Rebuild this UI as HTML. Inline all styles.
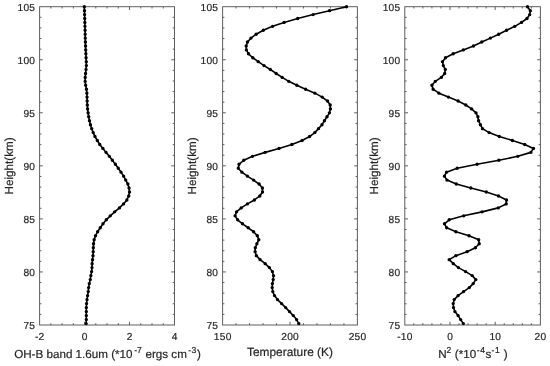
<!DOCTYPE html>
<html><head><meta charset="utf-8"><title>Profiles</title>
<style>
html,body{margin:0;padding:0;background:#fff;}
body{width:550px;height:366px;overflow:hidden;}
svg{display:block;}
text{font-family:'Liberation Sans', Arial, Helvetica, sans-serif;fill:#262626;text-rendering:geometricPrecision;}
.lb{stroke:#262626;stroke-width:0.2px;}
.tk{stroke:#262626;stroke-width:0.2px;}
.tk{font-size:10.2px;letter-spacing:0.25px;}
.lb{font-size:11.9px;}
</style></head><body>
<svg width="550" height="366" viewBox="0 0 550 366">
<rect x="0" y="0" width="550" height="366" fill="#fff"/>
<path d="M39.6 314.39h1.8M174.5 314.39h-1.8M39.6 303.78h1.8M174.5 303.78h-1.8M39.6 293.17h1.8M174.5 293.17h-1.8M39.6 282.56h1.8M174.5 282.56h-1.8M39.6 271.95h3.2M174.5 271.95h-3.2M39.6 261.34h1.8M174.5 261.34h-1.8M39.6 250.73h1.8M174.5 250.73h-1.8M39.6 240.12h1.8M174.5 240.12h-1.8M39.6 229.51h1.8M174.5 229.51h-1.8M39.6 218.9h3.2M174.5 218.9h-3.2M39.6 208.29h1.8M174.5 208.29h-1.8M39.6 197.68h1.8M174.5 197.68h-1.8M39.6 187.07h1.8M174.5 187.07h-1.8M39.6 176.46h1.8M174.5 176.46h-1.8M39.6 165.85h3.2M174.5 165.85h-3.2M39.6 155.24h1.8M174.5 155.24h-1.8M39.6 144.63h1.8M174.5 144.63h-1.8M39.6 134.02h1.8M174.5 134.02h-1.8M39.6 123.41h1.8M174.5 123.41h-1.8M39.6 112.8h3.2M174.5 112.8h-3.2M39.6 102.19h1.8M174.5 102.19h-1.8M39.6 91.58h1.8M174.5 91.58h-1.8M39.6 80.97h1.8M174.5 80.97h-1.8M39.6 70.36h1.8M174.5 70.36h-1.8M39.6 59.75h3.2M174.5 59.75h-3.2M39.6 49.14h1.8M174.5 49.14h-1.8M39.6 38.53h1.8M174.5 38.53h-1.8M39.6 27.92h1.8M174.5 27.92h-1.8M39.6 17.31h1.8M174.5 17.31h-1.8M50.84 325v-1.8M50.84 6.7v1.8M62.08 325v-1.8M62.08 6.7v1.8M73.33 325v-1.8M73.33 6.7v1.8M84.57 325v-3.2M84.57 6.7v3.2M95.81 325v-1.8M95.81 6.7v1.8M107.05 325v-1.8M107.05 6.7v1.8M118.29 325v-1.8M118.29 6.7v1.8M129.53 325v-3.2M129.53 6.7v3.2M140.78 325v-1.8M140.78 6.7v1.8M152.02 325v-1.8M152.02 6.7v1.8M163.26 325v-1.8M163.26 6.7v1.8" stroke="#5e5e5e" stroke-width="1" fill="none"/>
<rect x="39.6" y="6.7" width="134.9" height="318.3" stroke="#5e5e5e" stroke-width="1" fill="none"/>
<polyline points="84.31,6.75 84.45,10.66 84.6,14.58 84.74,18.5 84.85,22.41 84.95,26.33 85.11,30.25 85.18,34.18 85.26,38.1 85.38,42.02 85.54,45.95 85.7,49.88 85.85,53.8 86.06,57.73 86.27,61.66 86.35,65.59 86.04,69.53 85.58,73.46 85.21,77.39 85.16,81.33 85.65,85.27 86.44,89.21 86.85,93.15 87.04,97.09 87.14,101.03 87.3,104.97 87.61,108.91 88.1,112.86 88.72,116.81 89.48,120.75 90.43,124.7 91.74,128.65 93.19,132.6 95,136.55 97.31,140.51 99.77,144.46 102.9,148.42 106,152.37 109.34,156.33 112.34,160.29 115.36,164.25 118.26,168.21 121.01,172.17 123.63,176.14 125.75,180.1 127.88,184.07 129.05,188.03 129.49,192 128.73,195.97 126.87,199.94 123.54,203.91 119.42,207.89 114.67,211.86 110.27,215.84 106.29,219.81 103.01,223.79 100.26,227.77 97.63,231.75 95.54,235.73 94.13,239.71 93.53,243.69 93.32,247.68 93.21,251.66 93.01,255.65 92.53,259.64 92.13,263.63 92,267.62 91.63,271.61 90.86,275.6 90.26,279.59 89.28,283.59 88.65,287.59 88.24,291.58 87.59,295.58 87.02,299.58 86.55,303.58 86.32,307.58 86.3,311.58 86.3,315.59 86.3,319.59 86.14,323.6" stroke="#000" stroke-width="1.6" fill="none" stroke-linejoin="round"/>
<path d="M84.31 6.75h0M84.45 10.66h0M84.6 14.58h0M84.74 18.5h0M84.85 22.41h0M84.95 26.33h0M85.11 30.25h0M85.18 34.18h0M85.26 38.1h0M85.38 42.02h0M85.54 45.95h0M85.7 49.88h0M85.85 53.8h0M86.06 57.73h0M86.27 61.66h0M86.35 65.59h0M86.04 69.53h0M85.58 73.46h0M85.21 77.39h0M85.16 81.33h0M85.65 85.27h0M86.44 89.21h0M86.85 93.15h0M87.04 97.09h0M87.14 101.03h0M87.3 104.97h0M87.61 108.91h0M88.1 112.86h0M88.72 116.81h0M89.48 120.75h0M90.43 124.7h0M91.74 128.65h0M93.19 132.6h0M95 136.55h0M97.31 140.51h0M99.77 144.46h0M102.9 148.42h0M106 152.37h0M109.34 156.33h0M112.34 160.29h0M115.36 164.25h0M118.26 168.21h0M121.01 172.17h0M123.63 176.14h0M125.75 180.1h0M127.88 184.07h0M129.05 188.03h0M129.49 192h0M128.73 195.97h0M126.87 199.94h0M123.54 203.91h0M119.42 207.89h0M114.67 211.86h0M110.27 215.84h0M106.29 219.81h0M103.01 223.79h0M100.26 227.77h0M97.63 231.75h0M95.54 235.73h0M94.13 239.71h0M93.53 243.69h0M93.32 247.68h0M93.21 251.66h0M93.01 255.65h0M92.53 259.64h0M92.13 263.63h0M92 267.62h0M91.63 271.61h0M90.86 275.6h0M90.26 279.59h0M89.28 283.59h0M88.65 287.59h0M88.24 291.58h0M87.59 295.58h0M87.02 299.58h0M86.55 303.58h0M86.32 307.58h0M86.3 311.58h0M86.3 315.59h0M86.3 319.59h0M86.14 323.6h0" stroke="#000" stroke-width="3.4" stroke-linecap="round" fill="none"/>
<text class="tk" x="35.25" y="329.2" text-anchor="end">75</text>
<text class="tk" x="35.25" y="276.15" text-anchor="end">80</text>
<text class="tk" x="35.25" y="223.1" text-anchor="end">85</text>
<text class="tk" x="35.25" y="170.05" text-anchor="end">90</text>
<text class="tk" x="35.25" y="117" text-anchor="end">95</text>
<text class="tk" x="35.25" y="63.95" text-anchor="end">100</text>
<text class="tk" x="35.25" y="10.9" text-anchor="end">105</text>
<text class="tk" x="39.72" y="339.8" text-anchor="middle">-2</text>
<text class="tk" x="84.69" y="339.8" text-anchor="middle">0</text>
<text class="tk" x="129.65" y="339.8" text-anchor="middle">2</text>
<text class="tk" x="174.62" y="339.8" text-anchor="middle">4</text>
<text class="lb" x="0" y="0" text-anchor="middle" style="font-size:11.7px" transform="translate(12.9 165.85) rotate(-90)">Height(km)</text>
<path d="M222.6 314.39h1.8M357.4 314.39h-1.8M222.6 303.78h1.8M357.4 303.78h-1.8M222.6 293.17h1.8M357.4 293.17h-1.8M222.6 282.56h1.8M357.4 282.56h-1.8M222.6 271.95h3.2M357.4 271.95h-3.2M222.6 261.34h1.8M357.4 261.34h-1.8M222.6 250.73h1.8M357.4 250.73h-1.8M222.6 240.12h1.8M357.4 240.12h-1.8M222.6 229.51h1.8M357.4 229.51h-1.8M222.6 218.9h3.2M357.4 218.9h-3.2M222.6 208.29h1.8M357.4 208.29h-1.8M222.6 197.68h1.8M357.4 197.68h-1.8M222.6 187.07h1.8M357.4 187.07h-1.8M222.6 176.46h1.8M357.4 176.46h-1.8M222.6 165.85h3.2M357.4 165.85h-3.2M222.6 155.24h1.8M357.4 155.24h-1.8M222.6 144.63h1.8M357.4 144.63h-1.8M222.6 134.02h1.8M357.4 134.02h-1.8M222.6 123.41h1.8M357.4 123.41h-1.8M222.6 112.8h3.2M357.4 112.8h-3.2M222.6 102.19h1.8M357.4 102.19h-1.8M222.6 91.58h1.8M357.4 91.58h-1.8M222.6 80.97h1.8M357.4 80.97h-1.8M222.6 70.36h1.8M357.4 70.36h-1.8M222.6 59.75h3.2M357.4 59.75h-3.2M222.6 49.14h1.8M357.4 49.14h-1.8M222.6 38.53h1.8M357.4 38.53h-1.8M222.6 27.92h1.8M357.4 27.92h-1.8M222.6 17.31h1.8M357.4 17.31h-1.8M236.08 325v-1.8M236.08 6.7v1.8M249.56 325v-1.8M249.56 6.7v1.8M263.04 325v-1.8M263.04 6.7v1.8M276.52 325v-1.8M276.52 6.7v1.8M290 325v-3.2M290 6.7v3.2M303.48 325v-1.8M303.48 6.7v1.8M316.96 325v-1.8M316.96 6.7v1.8M330.44 325v-1.8M330.44 6.7v1.8M343.92 325v-1.8M343.92 6.7v1.8" stroke="#5e5e5e" stroke-width="1" fill="none"/>
<rect x="222.6" y="6.7" width="134.8" height="318.3" stroke="#5e5e5e" stroke-width="1" fill="none"/>
<polyline points="346.5,6.75 329.5,10.66 313.2,14.58 297.7,18.5 284.1,22.41 272.6,26.33 263.3,30.25 256.2,34.18 251,38.1 247.5,42.02 246.2,45.95 246.4,49.88 248.5,53.8 252.8,57.73 258.2,61.66 264,65.59 270.3,69.53 276.1,73.46 282.2,77.39 288.7,81.33 296.8,85.27 305.6,89.21 314.9,93.15 322.2,97.09 327.5,101.03 330.2,104.97 330.4,108.91 329.4,112.86 327,116.81 324.4,120.75 322,124.7 318.5,128.65 314.8,132.6 309.6,136.55 302.1,140.51 291.9,144.46 279,148.42 265.2,152.37 252.5,156.33 243.8,160.29 239,164.25 238.3,168.21 241.9,172.17 247.4,176.14 253.6,180.1 259.1,184.07 262.4,188.03 262.5,192 259.8,195.97 254.4,199.94 247.4,203.91 241.2,207.89 236.5,211.86 235.1,215.84 237.6,219.81 242.5,223.79 248.2,227.77 253.6,231.75 257.3,235.73 258.8,239.71 256.9,243.69 255.3,247.68 255.1,251.66 256.4,255.65 260.1,259.64 265.2,263.63 269.4,267.62 272.4,271.61 273.5,275.6 273.2,279.59 272.4,283.59 272.2,287.59 272.8,291.58 274.5,295.58 277.5,299.58 281.6,303.58 285.7,307.58 289.5,311.58 293.3,315.59 296.6,319.59 298.8,323.6" stroke="#000" stroke-width="1.6" fill="none" stroke-linejoin="round"/>
<path d="M346.5 6.75h0M329.5 10.66h0M313.2 14.58h0M297.7 18.5h0M284.1 22.41h0M272.6 26.33h0M263.3 30.25h0M256.2 34.18h0M251 38.1h0M247.5 42.02h0M246.2 45.95h0M246.4 49.88h0M248.5 53.8h0M252.8 57.73h0M258.2 61.66h0M264 65.59h0M270.3 69.53h0M276.1 73.46h0M282.2 77.39h0M288.7 81.33h0M296.8 85.27h0M305.6 89.21h0M314.9 93.15h0M322.2 97.09h0M327.5 101.03h0M330.2 104.97h0M330.4 108.91h0M329.4 112.86h0M327 116.81h0M324.4 120.75h0M322 124.7h0M318.5 128.65h0M314.8 132.6h0M309.6 136.55h0M302.1 140.51h0M291.9 144.46h0M279 148.42h0M265.2 152.37h0M252.5 156.33h0M243.8 160.29h0M239 164.25h0M238.3 168.21h0M241.9 172.17h0M247.4 176.14h0M253.6 180.1h0M259.1 184.07h0M262.4 188.03h0M262.5 192h0M259.8 195.97h0M254.4 199.94h0M247.4 203.91h0M241.2 207.89h0M236.5 211.86h0M235.1 215.84h0M237.6 219.81h0M242.5 223.79h0M248.2 227.77h0M253.6 231.75h0M257.3 235.73h0M258.8 239.71h0M256.9 243.69h0M255.3 247.68h0M255.1 251.66h0M256.4 255.65h0M260.1 259.64h0M265.2 263.63h0M269.4 267.62h0M272.4 271.61h0M273.5 275.6h0M273.2 279.59h0M272.4 283.59h0M272.2 287.59h0M272.8 291.58h0M274.5 295.58h0M277.5 299.58h0M281.6 303.58h0M285.7 307.58h0M289.5 311.58h0M293.3 315.59h0M296.6 319.59h0M298.8 323.6h0" stroke="#000" stroke-width="3.4" stroke-linecap="round" fill="none"/>
<text class="tk" x="218.25" y="329.2" text-anchor="end">75</text>
<text class="tk" x="218.25" y="276.15" text-anchor="end">80</text>
<text class="tk" x="218.25" y="223.1" text-anchor="end">85</text>
<text class="tk" x="218.25" y="170.05" text-anchor="end">90</text>
<text class="tk" x="218.25" y="117" text-anchor="end">95</text>
<text class="tk" x="218.25" y="63.95" text-anchor="end">100</text>
<text class="tk" x="218.25" y="10.9" text-anchor="end">105</text>
<text class="tk" x="222.72" y="339.8" text-anchor="middle">150</text>
<text class="tk" x="290.12" y="339.8" text-anchor="middle">200</text>
<text class="tk" x="357.52" y="339.8" text-anchor="middle">250</text>
<text class="lb" x="0" y="0" text-anchor="middle" style="font-size:11.7px" transform="translate(195.9 165.85) rotate(-90)">Height(km)</text>
<path d="M404.8 314.39h1.8M540.4 314.39h-1.8M404.8 303.78h1.8M540.4 303.78h-1.8M404.8 293.17h1.8M540.4 293.17h-1.8M404.8 282.56h1.8M540.4 282.56h-1.8M404.8 271.95h3.2M540.4 271.95h-3.2M404.8 261.34h1.8M540.4 261.34h-1.8M404.8 250.73h1.8M540.4 250.73h-1.8M404.8 240.12h1.8M540.4 240.12h-1.8M404.8 229.51h1.8M540.4 229.51h-1.8M404.8 218.9h3.2M540.4 218.9h-3.2M404.8 208.29h1.8M540.4 208.29h-1.8M404.8 197.68h1.8M540.4 197.68h-1.8M404.8 187.07h1.8M540.4 187.07h-1.8M404.8 176.46h1.8M540.4 176.46h-1.8M404.8 165.85h3.2M540.4 165.85h-3.2M404.8 155.24h1.8M540.4 155.24h-1.8M404.8 144.63h1.8M540.4 144.63h-1.8M404.8 134.02h1.8M540.4 134.02h-1.8M404.8 123.41h1.8M540.4 123.41h-1.8M404.8 112.8h3.2M540.4 112.8h-3.2M404.8 102.19h1.8M540.4 102.19h-1.8M404.8 91.58h1.8M540.4 91.58h-1.8M404.8 80.97h1.8M540.4 80.97h-1.8M404.8 70.36h1.8M540.4 70.36h-1.8M404.8 59.75h3.2M540.4 59.75h-3.2M404.8 49.14h1.8M540.4 49.14h-1.8M404.8 38.53h1.8M540.4 38.53h-1.8M404.8 27.92h1.8M540.4 27.92h-1.8M404.8 17.31h1.8M540.4 17.31h-1.8M413.84 325v-1.8M413.84 6.7v1.8M422.88 325v-1.8M422.88 6.7v1.8M431.92 325v-1.8M431.92 6.7v1.8M440.96 325v-1.8M440.96 6.7v1.8M450 325v-3.2M450 6.7v3.2M459.04 325v-1.8M459.04 6.7v1.8M468.08 325v-1.8M468.08 6.7v1.8M477.12 325v-1.8M477.12 6.7v1.8M486.16 325v-1.8M486.16 6.7v1.8M495.2 325v-3.2M495.2 6.7v3.2M504.24 325v-1.8M504.24 6.7v1.8M513.28 325v-1.8M513.28 6.7v1.8M522.32 325v-1.8M522.32 6.7v1.8M531.36 325v-1.8M531.36 6.7v1.8" stroke="#5e5e5e" stroke-width="1" fill="none"/>
<rect x="404.8" y="6.7" width="135.6" height="318.3" stroke="#5e5e5e" stroke-width="1" fill="none"/>
<polyline points="527.5,6.75 530.3,10.66 529.7,14.58 527,18.5 521.5,22.41 514.8,26.33 506.6,30.25 498.7,34.18 490.4,38.1 481.8,42.02 473.5,45.95 463.3,49.88 453.2,53.8 445.5,57.73 442.5,61.66 443.3,65.59 445.3,69.53 444.7,73.46 441.3,77.39 435.3,81.33 431.9,85.27 433.1,89.21 438.9,93.15 448.4,97.09 458.1,101.03 465.8,104.97 471.6,108.91 476,112.86 477.9,116.81 478.6,120.75 480.4,124.7 482.5,128.65 489.1,132.6 499.3,136.55 512.4,140.51 524.7,144.46 533.5,148.42 530.9,152.37 517.8,156.33 498.9,160.29 477.1,164.25 457.2,168.21 446.5,172.17 444.4,176.14 447,180.1 456.3,184.07 470.8,188.03 486.3,192 498.5,195.97 506.5,199.94 506.2,203.91 498.2,207.89 482.1,211.86 463.7,215.84 449.2,219.81 444.5,223.79 446.7,227.77 455.9,231.75 469,235.73 478.7,239.71 479.2,243.69 475.4,247.68 467.1,251.66 455.9,255.65 449.2,259.64 453.3,263.63 458.4,267.62 465.6,271.61 472.2,275.6 475.8,279.59 473.2,283.59 469.3,287.59 463.6,291.58 458.1,295.58 454.2,299.58 453.2,303.58 453.5,307.58 454.9,311.58 458.1,315.59 460.7,319.59 463.3,323.6" stroke="#000" stroke-width="1.6" fill="none" stroke-linejoin="round"/>
<path d="M527.5 6.75h0M530.3 10.66h0M529.7 14.58h0M527 18.5h0M521.5 22.41h0M514.8 26.33h0M506.6 30.25h0M498.7 34.18h0M490.4 38.1h0M481.8 42.02h0M473.5 45.95h0M463.3 49.88h0M453.2 53.8h0M445.5 57.73h0M442.5 61.66h0M443.3 65.59h0M445.3 69.53h0M444.7 73.46h0M441.3 77.39h0M435.3 81.33h0M431.9 85.27h0M433.1 89.21h0M438.9 93.15h0M448.4 97.09h0M458.1 101.03h0M465.8 104.97h0M471.6 108.91h0M476 112.86h0M477.9 116.81h0M478.6 120.75h0M480.4 124.7h0M482.5 128.65h0M489.1 132.6h0M499.3 136.55h0M512.4 140.51h0M524.7 144.46h0M533.5 148.42h0M530.9 152.37h0M517.8 156.33h0M498.9 160.29h0M477.1 164.25h0M457.2 168.21h0M446.5 172.17h0M444.4 176.14h0M447 180.1h0M456.3 184.07h0M470.8 188.03h0M486.3 192h0M498.5 195.97h0M506.5 199.94h0M506.2 203.91h0M498.2 207.89h0M482.1 211.86h0M463.7 215.84h0M449.2 219.81h0M444.5 223.79h0M446.7 227.77h0M455.9 231.75h0M469 235.73h0M478.7 239.71h0M479.2 243.69h0M475.4 247.68h0M467.1 251.66h0M455.9 255.65h0M449.2 259.64h0M453.3 263.63h0M458.4 267.62h0M465.6 271.61h0M472.2 275.6h0M475.8 279.59h0M473.2 283.59h0M469.3 287.59h0M463.6 291.58h0M458.1 295.58h0M454.2 299.58h0M453.2 303.58h0M453.5 307.58h0M454.9 311.58h0M458.1 315.59h0M460.7 319.59h0M463.3 323.6h0" stroke="#000" stroke-width="3.4" stroke-linecap="round" fill="none"/>
<text class="tk" x="400.45" y="329.2" text-anchor="end">75</text>
<text class="tk" x="400.45" y="276.15" text-anchor="end">80</text>
<text class="tk" x="400.45" y="223.1" text-anchor="end">85</text>
<text class="tk" x="400.45" y="170.05" text-anchor="end">90</text>
<text class="tk" x="400.45" y="117" text-anchor="end">95</text>
<text class="tk" x="400.45" y="63.95" text-anchor="end">100</text>
<text class="tk" x="400.45" y="10.9" text-anchor="end">105</text>
<text class="tk" x="404.92" y="339.8" text-anchor="middle">-10</text>
<text class="tk" x="450.12" y="339.8" text-anchor="middle">0</text>
<text class="tk" x="495.32" y="339.8" text-anchor="middle">10</text>
<text class="tk" x="540.52" y="339.8" text-anchor="middle">20</text>
<text class="lb" x="0" y="0" text-anchor="middle" style="font-size:11.7px" transform="translate(378.1 165.85) rotate(-90)">Height(km)</text>
<text class="lb" xml:space="preserve"><tspan x="14.15" y="358.3" style="font-size:11.65px">OH-B band 1.6um (*10</tspan><tspan x="134.13" y="353.3" style="font-size:8.6px">-</tspan><tspan x="137.07" y="353.3" style="font-size:8.6px">7</tspan><tspan x="142.26" y="358.3" style="font-size:11.65px"> ergs cm</tspan><tspan x="188.13" y="353.3" style="font-size:8.6px">-</tspan><tspan x="191.48" y="353.3" style="font-size:8.6px">3</tspan><tspan x="196.95" y="358.3" style="font-size:11.65px">)</tspan></text>
<text class="lb" x="290" y="356" text-anchor="middle">Temperature (K)</text>
<text class="lb" xml:space="preserve"><tspan x="438.15" y="358.3" style="font-size:11.65px">N</tspan><tspan x="446.58" y="353.3" style="font-size:8.6px">2</tspan><tspan x="451.54" y="358.3" style="font-size:11.65px"> (*10</tspan><tspan x="476.83" y="353.3" style="font-size:8.6px">-</tspan><tspan x="480.34" y="353.3" style="font-size:8.6px">4</tspan><tspan x="485.5" y="358.3" style="font-size:11.65px">s</tspan><tspan x="491.43" y="353.3" style="font-size:8.6px">-</tspan><tspan x="495" y="353.3" style="font-size:8.6px">1</tspan><tspan x="503.83" y="358.3" style="font-size:11.65px">)</tspan></text>
</svg>
</body></html>
